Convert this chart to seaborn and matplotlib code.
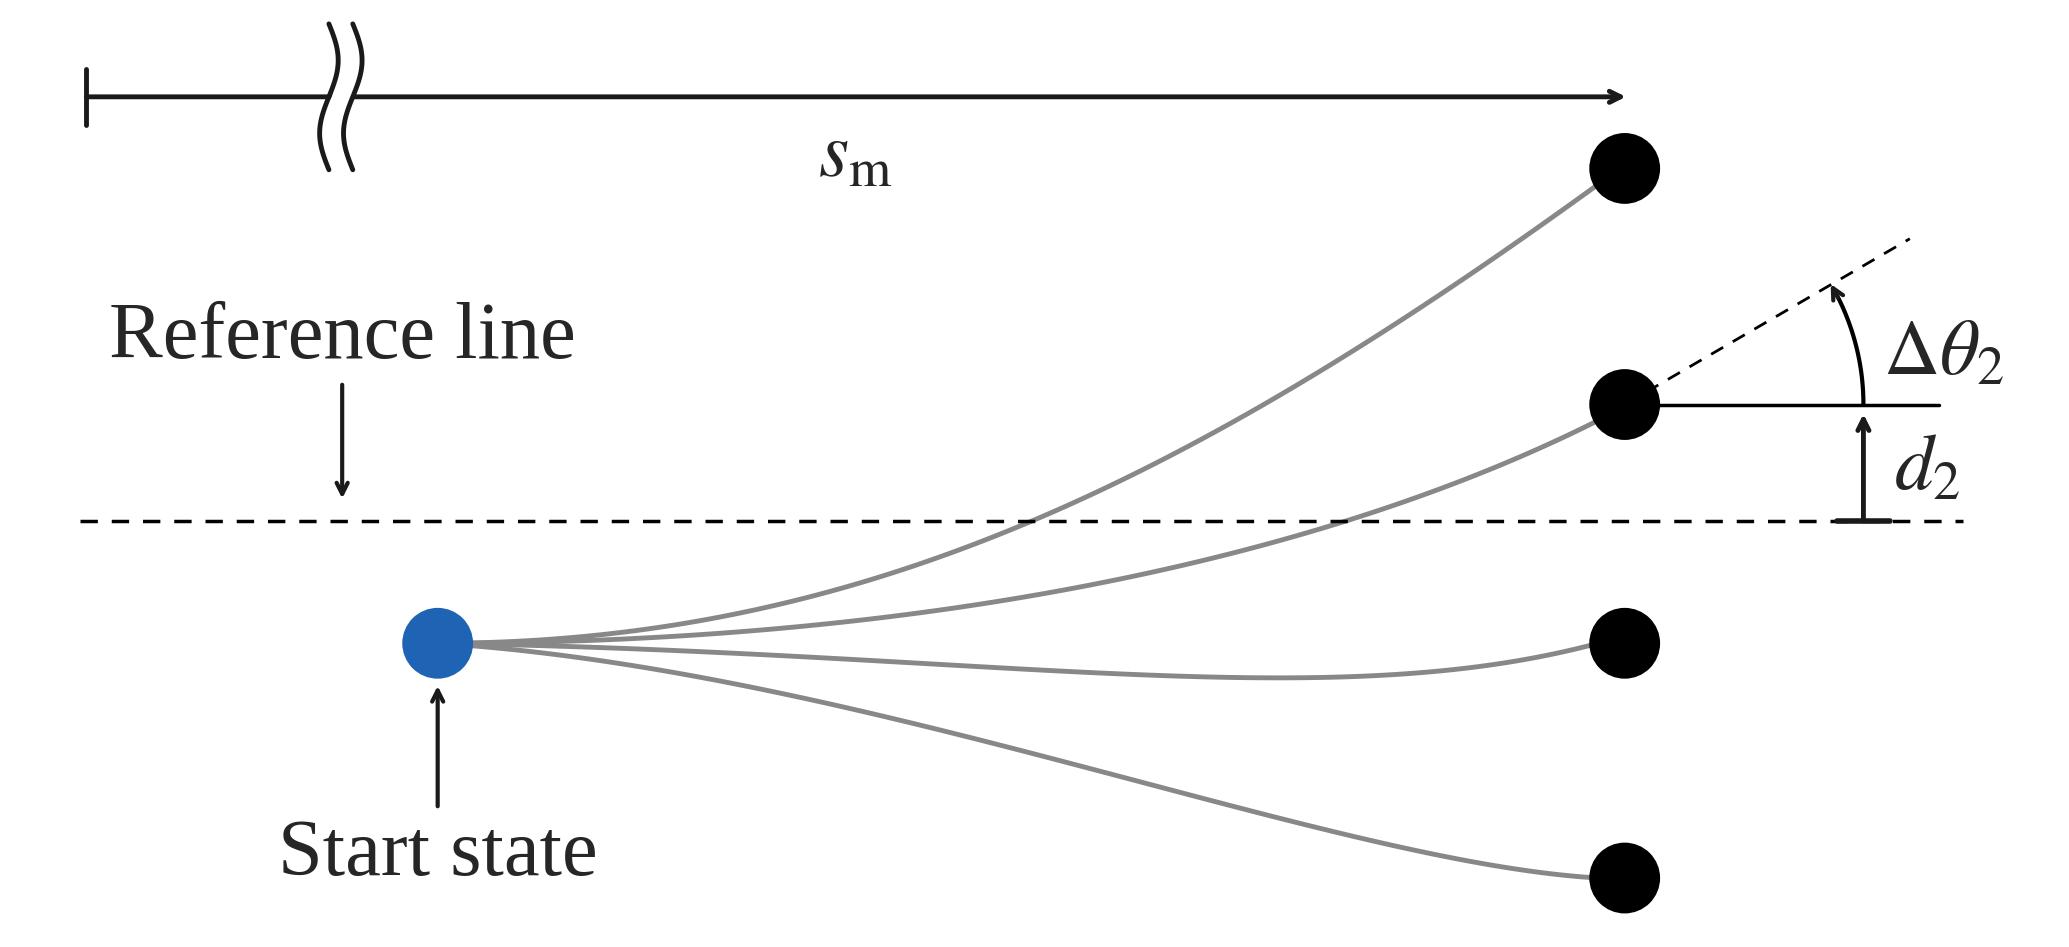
import numpy as np
import pandas as pd
import matplotlib.pyplot as plt
import seaborn as sns

sns.set_style("white")
plt.rcParams['font.family'] = ['Liberation Serif', 'DejaVu Serif']
plt.rcParams['mathtext.fontset'] = 'stix'

# diagram data (picture coordinates, y down)
start_x, start_y = 330, 485
goal_x = 1225
goal_y = [127, 305, 485, 662]
ref_y = 393
# control points for each trajectory (cubic bezier)
ctrl1_x = [650, 700, 750, 650]
ctrl1_y = [485, 485, 492, 505]
ctrl2_x = [900, 1000, 1000, 1000]
ctrl2_y = [360, 420, 540, 650]

fig = plt.figure(figsize=(20.69, 9.47), dpi=100)
ax = fig.add_axes([0, 0, 1, 1])
ax.set_xlim(0, 1560)
ax.set_ylim(714, 0)
ax.axis('off')

gray = '#888888'
rows = []
for i, gy in enumerate(goal_y):
    t = np.linspace(0, 1, 100)
    p0 = np.array([start_x, start_y]); p3 = np.array([goal_x - 20, gy + (12 if i < 2 else 0)])
    p1 = np.array([ctrl1_x[i], ctrl1_y[i]]); p2 = np.array([ctrl2_x[i], ctrl2_y[i]])
    pts = ((1 - t)**3)[:, None] * p0 + (3 * (1 - t)**2 * t)[:, None] * p1 \
        + (3 * (1 - t) * t**2)[:, None] * p2 + (t**3)[:, None] * p3
    rows.append(pd.DataFrame({'x': pts[:, 0], 'y': pts[:, 1], 'traj': i}))
curves = pd.concat(rows)
sns.lineplot(data=curves, x='x', y='y', units='traj', estimator=None, sort=False,
             color=gray, lw=3.5, ax=ax, legend=False)

goals = pd.DataFrame({'x': [goal_x] * len(goal_y), 'y': goal_y})
sns.scatterplot(data=goals, x='x', y='y', s=2600, color='black', edgecolor='none', ax=ax, zorder=5)
sns.scatterplot(x=[start_x], y=[start_y], s=2600, color='#1f63b5', edgecolor='none', ax=ax, zorder=5)

arrow = dict(arrowstyle='->,head_length=0.8,head_width=0.4', lw=3, color='#1a1a1a')

# top arrow s_m
ax.annotate('', xy=(1228, 73), xytext=(63, 73),
            arrowprops=dict(arrow, lw=3.5))
ax.plot([65, 65], [52, 94], color='#1a1a1a', lw=3.5)
yy = np.linspace(18, 128, 60)
wave = 7 * np.sin((yy - 18) / 110 * 2 * np.pi)
ax.fill_betweenx(yy, 250 + wave, 264 + wave, color='white', zorder=3)
for dx in (0, 18):
    ax.plot(248 + dx + wave, yy, color='#1a1a1a', lw=3.5, zorder=4)
ax.text(645, 118, r'$s_{\mathrm{m}}$', fontsize=56, ha='center', va='center')

# reference line
ax.plot([60, 1480], [ref_y, ref_y], color='black', lw=2.5, ls=(0, (5, 4)))
ax.text(258, 255, 'Reference line', fontsize=58, ha='center', va='center')
ax.annotate('', xy=(258, 378), xytext=(258, 288), arrowprops=arrow)

# start state
ax.text(330, 645, 'Start state', fontsize=58, ha='center', va='center')
ax.annotate('', xy=(330, 515), xytext=(330, 610), arrowprops=arrow)

# heading offset
cx, cy = goal_x, goal_y[1]
ax.plot([cx, 1440], [cy, 180], color='black', lw=2, ls=(0, (5, 4)))
ax.plot([cx, 1462], [cy, cy], color='black', lw=2.5)
r = 180
ang = np.deg2rad(np.linspace(0, 27, 40))
ax.plot(cx + r * np.cos(ang), cy - r * np.sin(ang), color='black', lw=3)
ax.annotate('', xy=(cx + r * np.cos(np.deg2rad(31)), cy - r * np.sin(np.deg2rad(31))),
            xytext=(cx + r * np.cos(np.deg2rad(26)), cy - r * np.sin(np.deg2rad(26))),
            arrowprops=arrow)
ax.text(1420, 268, r'$\Delta\theta_2$', fontsize=56, ha='left', va='center')

# lateral offset d2
ax.annotate('', xy=(1405, 310), xytext=(1405, ref_y), arrowprops=dict(arrow, lw=3.5))
ax.plot([1385, 1425], [ref_y, ref_y], color='#1a1a1a', lw=4)
ax.text(1428, 355, r'$d_2$', fontsize=56, ha='left', va='center')

fig.savefig('out.png', dpi=100)
